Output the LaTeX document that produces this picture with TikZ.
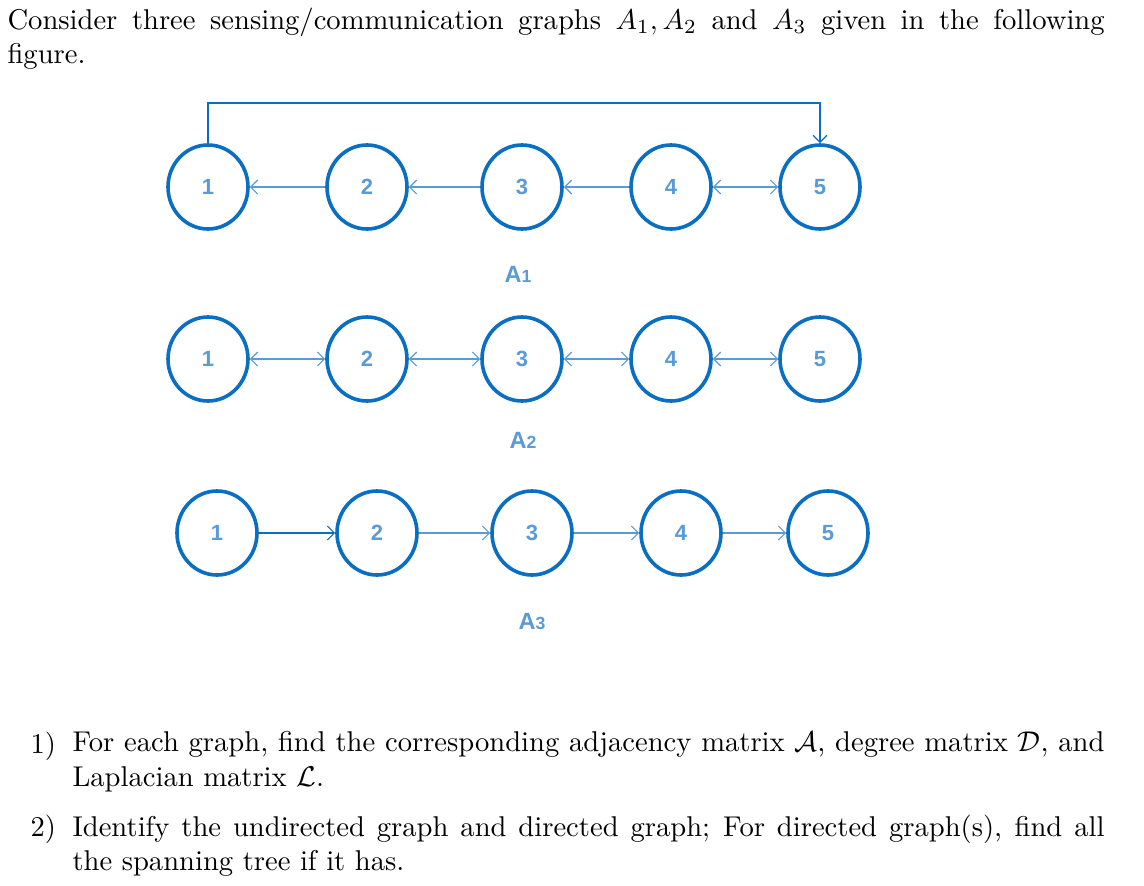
\documentclass[tikz,border=0pt]{standalone}
\usepackage{fontspec}
\newfontfamily\lab{Liberation Sans}
\usetikzlibrary{arrows.meta,shapes.geometric}
\definecolor{ring}{HTML}{0A6FC2}
\definecolor{edge}{HTML}{5B9BD5}
\definecolor{txt}{HTML}{5B9BD5}
\tikzset{
  vtx/.style={draw=ring,line width=3.6pt,ellipse,minimum width=80pt,minimum height=84pt,inner sep=0pt},
  dig/.style={text=txt,font=\lab\bfseries,scale=2.2,inner sep=0pt},
  conn/.style={draw=edge,line width=1.6pt,-{Straight Barb[length=7pt,width=14pt,line width=1.2pt]}},
  both/.style={draw=edge,line width=1.6pt,{Straight Barb[length=7pt,width=14pt,line width=1.2pt]}-{Straight Barb[length=7pt,width=14pt,line width=1.2pt]}},
  glab/.style={text=txt,font=\lab\bfseries,scale=2.35,inner sep=0pt},
  body/.style={inner sep=0pt,align=justify,scale=2.86,transform shape}
}
\newcommand{\gsub}[1]{{\fontsize{7.5}{7.5}\selectfont #1}}
\begin{document}
\begin{tikzpicture}[x=1pt,y=-1pt]
\useasboundingbox[fill=white] (0,0) rectangle (1144,886);
\node[body,text width=383.6pt,anchor=north west] (intro) at (7,7)
 {Consider three sensing/communication graphs $A_1,A_2$ and $A_3$ given in the following\linebreak figure.};
% row 1
\foreach \i/\x in {1/208,2/367,3/522,4/671,5/820}{\node[vtx] (a\i) at (\x,187) {}; \node[dig] (da\i) at (\x,187) {\i};}
\draw[conn] (a2) -- (a1);
\draw[conn] (a3) -- (a2);
\draw[conn] (a4) -- (a3);
\draw[both] (a4) -- (a5);
\coordinate (t1) at (208,103);
\coordinate (t5) at (820,103);
\draw[draw=ring,line width=1.8pt,-{Straight Barb[length=7pt,width=14pt,line width=1.3pt]}] (a1.north) -- (t1) -- (t5) -- (a5.north);
\node[glab] (l1) at (518,274) {A\gsub{1}};
% row 2
\foreach \i/\x in {1/208,2/367,3/522,4/671,5/820}{\node[vtx] (b\i) at (\x,359) {}; \node[dig] (db\i) at (\x,359) {\i};}
\draw[both] (b1) -- (b2);
\draw[both] (b2) -- (b3);
\draw[both] (b3) -- (b4);
\draw[both] (b4) -- (b5);
\node[glab] (l2) at (523,440) {A\gsub{2}};
% row 3
\foreach \i/\x in {1/217,2/377,3/532,4/681,5/828}{\node[vtx] (c\i) at (\x,533) {}; \node[dig] (dc\i) at (\x,533) {\i};}
\draw[conn,draw=ring] (c1) -- (c2);
\draw[conn] (c2) -- (c3);
\draw[conn] (c3) -- (c4);
\draw[conn] (c4) -- (c5);
\node[glab] (l3) at (532,622) {A\gsub{3}};
% questions
\node[body,anchor=north west] (n1) at (30,731) {1)};
\node[body,text width=360.8pt,anchor=north west] (q1) at (72,731)
 {For each graph, find the corresponding adjacency matrix $\mathcal{A}$, degree matrix $\mathcal{D}$, and\linebreak Laplacian matrix $\mathcal{L}$.};
\node[body,anchor=north west] (n2) at (30,814) {2)};
\node[body,text width=360.8pt,anchor=north west] (q2) at (72,814)
 {Identify the undirected graph and directed graph; For directed graph(s), find all\linebreak the spanning tree if it has.};
\end{tikzpicture}
\end{document}
